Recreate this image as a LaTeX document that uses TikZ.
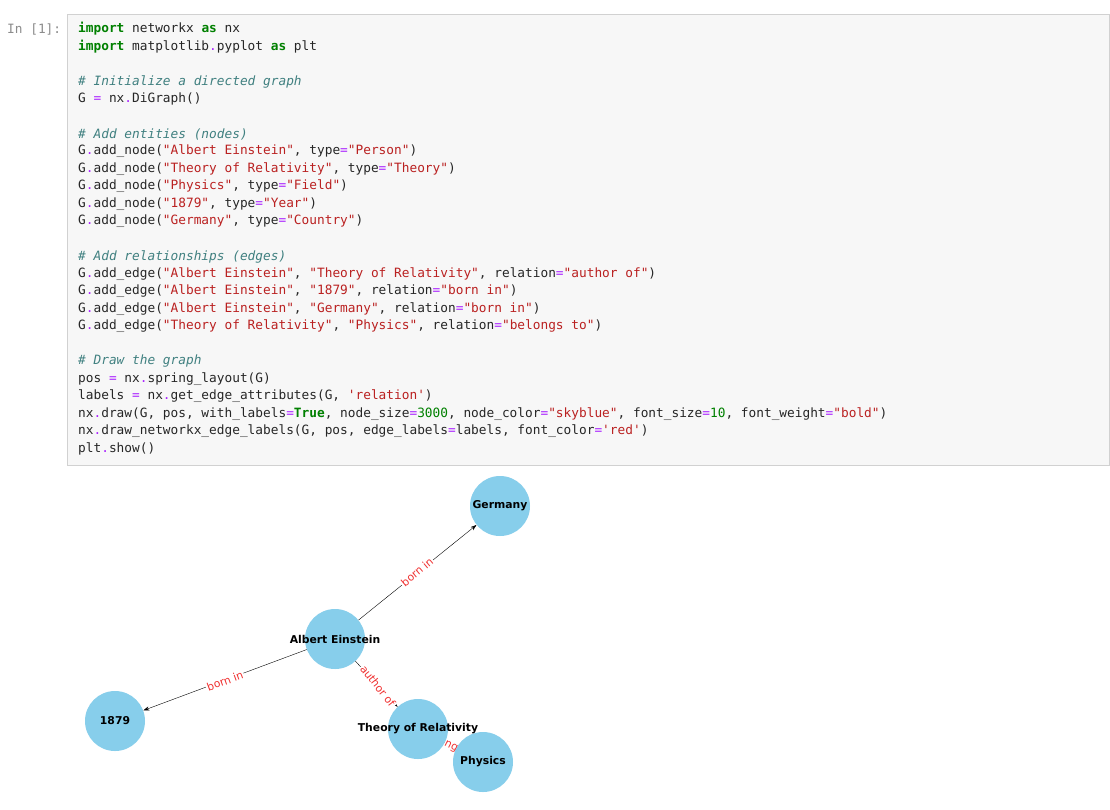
\documentclass[tikz,border=0pt]{standalone}
\usepackage{fontspec}
\usetikzlibrary{arrows.meta}
\setmonofont{DejaVu Sans Mono}
\setsansfont{DejaVu Sans}
\definecolor{kwc}{HTML}{008000}
\definecolor{cmc}{HTML}{408080}
\definecolor{stc}{HTML}{BA2121}
\definecolor{opc}{HTML}{AA22FF}
\definecolor{sky}{HTML}{87CEEB}
\definecolor{lred}{HTML}{F03030}
\newcommand\kwd[1]{\textcolor{kwc}{\bfseries #1}}
\newcommand\cmt[1]{\textcolor{cmc}{\itshape #1}}
\newcommand\strg[1]{\textcolor{stc}{#1}}
\newcommand\opr[1]{\textcolor{opc}{#1}}
\newcommand\nmb[1]{\textcolor{kwc}{#1}}
\tikzset{
 code/.style={anchor=west,inner sep=0pt,font=\ttfamily\fontsize{12.8}{14}\selectfont,text=black!85},
 gnode/.style={circle,fill=sky,minimum size=60pt,inner sep=0pt},
 glab/.style={font=\sffamily\bfseries\fontsize{10.8}{12}\selectfont,inner sep=0pt},
 elab/.style={font=\sffamily\fontsize{10.8}{12}\selectfont,text=lred,fill=white,inner sep=1pt},
 edge/.style={-{Stealth[length=6pt,width=4pt]},thin,black}
}
\begin{document}
\begin{tikzpicture}[x=1pt,y=-1pt]
\useasboundingbox[fill=white] (0,0) rectangle (1110,809);
\draw[fill=black!3,draw=black!18] (67,14) rectangle (1109,465);
\node[code,text=black!45] (prompt) at (7,29) {In [1]:};
\node[code] (l1) at (78,29) {\kwd{import} networkx \kwd{as} nx};
\node[code] (l2) at (78,46.5) {\kwd{import} matplotlib\opr{.}pyplot \kwd{as} plt};
\node[code] (l4) at (78,81.5) {\cmt{\# Initialize a directed graph}};
\node[code] (l5) at (78,99) {G \opr{=} nx\opr{.}DiGraph()};
\node[code] (l7) at (78,134) {\cmt{\# Add entities (nodes)}};
\node[code] (l8) at (78,151.5) {G\opr{.}add\_node(\strg{"Albert Einstein"}, type\opr{=}\strg{"Person"})};
\node[code] (l9) at (78,169) {G\opr{.}add\_node(\strg{"Theory of Relativity"}, type\opr{=}\strg{"Theory"})};
\node[code] (l10) at (78,186.5) {G\opr{.}add\_node(\strg{"Physics"}, type\opr{=}\strg{"Field"})};
\node[code] (l11) at (78,204) {G\opr{.}add\_node(\strg{"1879"}, type\opr{=}\strg{"Year"})};
\node[code] (l12) at (78,221.5) {G\opr{.}add\_node(\strg{"Germany"}, type\opr{=}\strg{"Country"})};
\node[code] (l14) at (78,256.5) {\cmt{\# Add relationships (edges)}};
\node[code] (l15) at (78,274) {G\opr{.}add\_edge(\strg{"Albert Einstein"}, \strg{"Theory of Relativity"}, relation\opr{=}\strg{"author of"})};
\node[code] (l16) at (78,291.5) {G\opr{.}add\_edge(\strg{"Albert Einstein"}, \strg{"1879"}, relation\opr{=}\strg{"born in"})};
\node[code] (l17) at (78,309) {G\opr{.}add\_edge(\strg{"Albert Einstein"}, \strg{"Germany"}, relation\opr{=}\strg{"born in"})};
\node[code] (l18) at (78,326.5) {G\opr{.}add\_edge(\strg{"Theory of Relativity"}, \strg{"Physics"}, relation\opr{=}\strg{"belongs to"})};
\node[code] (l20) at (78,361.5) {\cmt{\# Draw the graph}};
\node[code] (l21) at (78,379) {pos \opr{=} nx\opr{.}spring\_layout(G)};
\node[code] (l22) at (78,396.5) {labels \opr{=} nx\opr{.}get\_edge\_attributes(G, \strg{'relation'})};
\node[code] (l23) at (78,414) {nx\opr{.}draw(G, pos, with\_labels\opr{=}\kwd{True}, node\_size\opr{=}\nmb{3000}, node\_color\opr{=}\strg{"skyblue"}, font\_size\opr{=}\nmb{10}, font\_weight\opr{=}\strg{"bold"})};
\node[code] (l24) at (78,431.5) {nx\opr{.}draw\_networkx\_edge\_labels(G, pos, edge\_labels\opr{=}labels, font\_color\opr{=}\strg{'red'})};
\node[code] (l25) at (78,449) {plt\opr{.}show()};
% graph
\node[elab,rotate=-27] (lb) at (450,745) {belongs to};
\node[gnode] (ger) at (500,506) {};
\node[gnode] (ein) at (335,639) {};
\node[gnode] (y79) at (115,721) {};
\node[gnode] (tor) at (418,729) {};
\node[gnode] (phy) at (483,762) {};
\draw[edge] (ein) -- (ger);
\draw[edge] (ein) -- (y79);
\draw[edge] (ein) -- (tor);
\node[elab,rotate=40] (lg) at (417,572) {born in};
\node[elab,rotate=20] (ly) at (225,681) {born in};
\node[elab,rotate=-52] (la) at (378,686) {author of};
\node[glab] (tger) at (ger) {Germany};
\node[glab] (tein) at (ein) {Albert Einstein};
\node[glab] (ty79) at (y79) {1879};
\node[glab] (ttor) at (tor) {Theory of Relativity};
\node[glab] (tphy) at (phy) {Physics};
\end{tikzpicture}
\end{document}
